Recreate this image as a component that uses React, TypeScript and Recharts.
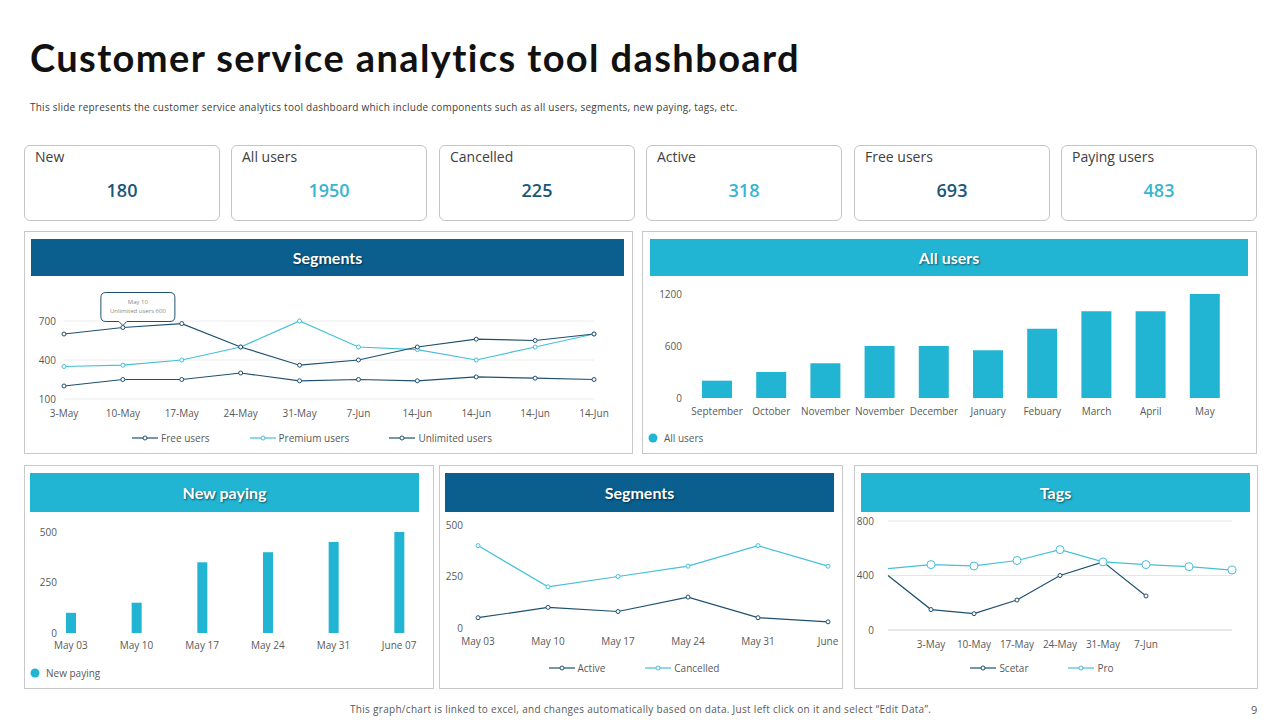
import React from "react";
import {
  BarChart,
  Bar,
  LineChart,
  Line,
  XAxis,
  YAxis,
  CartesianGrid,
  Legend,
} from "recharts";

// KPI cards
const kpiLabels = ["New", "All users", "Cancelled", "Active", "Free users", "Paying users"];
const kpiValues = [180, 1950, 225, 318, 693, 483];

// Segments (top left)
const segWeeks = ["3-May", "10-May", "17-May", "24-May", "31-May", "7-Jun", "14-Jun", "14-Jun", "14-Jun", "14-Jun"];
const freeUsers = [200, 250, 250, 300, 240, 250, 240, 270, 260, 250];
const premiumUsers = [350, 360, 400, 500, 700, 500, 480, 400, 500, 600];
const unlimitedUsers = [600, 650, 680, 500, 360, 400, 500, 560, 550, 600];

// All users
const allUsersMonths = ["September", "October", "November", "November", "December", "January", "Febuary", "March", "April", "May"];
const allUsers = [200, 300, 400, 600, 600, 550, 800, 1000, 1000, 1200];

// New paying
const newPayingWeeks = ["May 03", "May 10", "May 17", "May 24", "May 31", "June 07"];
const newPaying = [100, 150, 350, 400, 450, 500];

// Segments (bottom)
const seg2Weeks = ["May 03", "May 10", "May 17", "May 24", "May 31", "June"];
const active = [50, 100, 80, 150, 50, 30];
const cancelled = [400, 200, 250, 300, 400, 300];

// Tags
const tagWeeks = ["", "3-May", "10-May", "17-May", "24-May", "31-May", "7-Jun", "", ""];
const scetar = [400, 150, 120, 220, 400, 500, 250, null, null];
const pro = [450, 480, 470, 510, 590, 500, 480, 465, 440];

const FONT = "'Open Sans', 'Noto Sans', sans-serif";
const HEAD_FONT = "Lato, 'Open Sans', sans-serif";
const DARK = "#0a5f8f";
const LIGHT = "#22b5d3";
const NAVY = "#1f5070";
const TEAL = "#45c0d8";
const TICK = { fontSize: 10, fill: "#595959", fontFamily: FONT };

const segData = segWeeks.map((w, i) => ({
  week: w,
  free: freeUsers[i],
  premium: premiumUsers[i],
  unlimited: unlimitedUsers[i],
}));
const allUsersData = allUsersMonths.map((m, i) => ({ month: m, users: allUsers[i] }));
const newPayingData = newPayingWeeks.map((w, i) => ({ week: w, paying: newPaying[i] }));
const seg2Data = seg2Weeks.map((w, i) => ({ week: w, active: active[i], cancelled: cancelled[i] }));
const tagData = tagWeeks.map((w, i) => ({ week: w, scetar: scetar[i], pro: pro[i] }));

const LineLegend = ({ payload }: any) => (
  <div
    style={{
      display: "flex",
      justifyContent: "center",
      gap: 40,
      height: 24,
      alignItems: "center",
      fontSize: 10,
      color: "#595959",
      fontFamily: FONT,
    }}
  >
    {(payload || []).map((p: any) => (
      <span key={p.value} style={{ display: "flex", alignItems: "center", gap: 3 }}>
        <svg width={26} height={8}>
          <line x1={0} y1={4} x2={26} y2={4} stroke={p.color} strokeWidth={1.2} />
          <circle cx={13} cy={4} r={2} fill="#fff" stroke={p.color} strokeWidth={1} />
        </svg>
        {p.value}
      </span>
    ))}
  </div>
);

const BarLegend = ({ payload }: any) => (
  <div
    style={{
      display: "flex",
      height: 24,
      alignItems: "center",
      fontSize: 10,
      color: "#595959",
      fontFamily: FONT,
    }}
  >
    {(payload || []).map((p: any) => (
      <span key={p.value} style={{ display: "flex", alignItems: "center", gap: 6 }}>
        <svg width={10} height={10}>
          <circle cx={5} cy={5} r={4.5} fill={p.color} />
        </svg>
        {p.value}
      </span>
    ))}
  </div>
);

// unlimited users dot, the second one carries the callout box
const UnlimitedDot = (props: any) => {
  const { cx, cy, index } = props;
  const dot = <circle cx={cx} cy={cy} r={2} fill="#fff" stroke={NAVY} strokeWidth={1} />;
  if (index !== 1) return <g key={`u-${index}`}>{dot}</g>;
  const w = 74;
  const h = 29;
  const left = cx - 22;
  const top = cy - 35;
  const r = 5;
  const d = `M${left + r},${top} H${left + w - r} Q${left + w},${top} ${left + w},${top + r} V${top + h - r} Q${left + w},${top + h} ${left + w - r},${top + h} H${cx + 4} L${cx},${cy - 2} L${cx - 4},${top + h} H${left + r} Q${left},${top + h} ${left},${top + h - r} V${top + r} Q${left},${top} ${left + r},${top} Z`;
  return (
    <g key={`u-${index}`}>
      {dot}
      <path d={d} fill="#fff" stroke={NAVY} strokeWidth={1} />
      <text x={left + w / 2} y={top + 11} textAnchor="middle" fontSize={6} fill="#888" fontFamily={FONT}>
        May 10
      </text>
      <text x={left + w / 2} y={top + 20} textAnchor="middle" fontSize={6} fill="#888" fontFamily={FONT}>
        Unlimited users 600
      </text>
    </g>
  );
};

const ProDot = (props: any) => {
  const { cx, cy, index } = props;
  if (index === 0 || cx == null || cy == null) return <g key={`p-${index}`} />;
  return <circle key={`p-${index}`} cx={cx} cy={cy} r={4} fill="#fff" stroke={TEAL} strokeWidth={1} />;
};

const ScetarDot = (props: any) => {
  const { cx, cy, index, value } = props;
  if (index === 0 || value == null || cy == null) return <g key={`s-${index}`} />;
  return <circle key={`s-${index}`} cx={cx} cy={cy} r={2} fill="#fff" stroke={NAVY} strokeWidth={1} />;
};

const Panel = ({ x, y, w, h }: { x: number; y: number; w: number; h: number }) => (
  <div
    style={{
      position: "absolute",
      left: x,
      top: y,
      width: w,
      height: h,
      border: "1px solid #c9c9c9",
      boxSizing: "border-box",
    }}
  />
);

const Header = ({ x, y, w, h, color, title }: any) => (
  <div
    style={{
      position: "absolute",
      left: x,
      top: y,
      width: w,
      height: h,
      background: color,
      color: "#fff",
      fontFamily: HEAD_FONT,
      fontWeight: 700,
      fontSize: 16,
      display: "flex",
      alignItems: "center",
      justifyContent: "center",
      textShadow: "1px 1px 2px rgba(0,0,0,0.55)",
    }}
  >
    {title}
  </div>
);

const abs = (left: number, top: number): React.CSSProperties => ({ position: "absolute", left, top });

export default function App() {
  return (
    <div
      style={{
        position: "absolute",
        left: 0,
        top: 0,
        width: 1280,
        height: 720,
        background: "#fff",
        overflow: "hidden",
        fontFamily: FONT,
      }}
    >
      <div
        style={{
          position: "absolute",
          left: 30,
          top: 34,
          fontFamily: HEAD_FONT,
          fontWeight: 700,
          fontSize: 38,
          letterSpacing: 1.4,
          color: "#111",
          whiteSpace: "nowrap",
        }}
      >
        Customer service analytics tool dashboard
      </div>
      <div style={{ position: "absolute", left: 30, top: 100, fontSize: 10, color: "#404040", letterSpacing: 0.24, whiteSpace: "nowrap" }}>
        This slide represents the customer service analytics tool dashboard which include components such as all users, segments, new paying, tags, etc.
      </div>

      {kpiLabels.map((label, i) => (
        <div
          key={label}
          style={{
            position: "absolute",
            left: Math.round(24 + i * 207.4),
            top: 145,
            width: 196,
            height: 76,
            border: "1px solid #c4c4c4",
            borderRadius: 6,
            boxSizing: "border-box",
          }}
        >
          <div style={{ position: "absolute", left: 10, top: 1, fontSize: 14, color: "#404040" }}>{label}</div>
          <div
            style={{
              position: "absolute",
              left: 0,
              right: 0,
              top: 32,
              textAlign: "center",
              fontSize: 18,
              fontWeight: 600,
              color: i % 2 === 0 ? "#1a5878" : "#38b6cf",
            }}
          >
            {kpiValues[i]}
          </div>
        </div>
      ))}

      <Panel x={24} y={231} w={609} h={223} />
      <Panel x={642} y={231} w={615} h={223} />
      <Panel x={24} y={465} w={410} h={224} />
      <Panel x={439} y={465} w={404} h={224} />
      <Panel x={854} y={465} w={404} h={224} />

      <Header x={31} y={239} w={593} h={37} color={DARK} title="Segments" />
      <Header x={650} y={239} w={598} h={37} color={LIGHT} title="All users" />
      <Header x={30} y={473} w={389} h={39} color={LIGHT} title="New paying" />
      <Header x={445} y={473} w={389} h={39} color={DARK} title="Segments" />
      <Header x={861} y={473} w={389} h={39} color={LIGHT} title="Tags" />

      {/* Segments top */}
      <div style={abs(30, 282)}>
        <LineChart width={580} height={168} data={segData} margin={{ top: 39, right: 16, left: 0, bottom: 0 }}>
          <CartesianGrid vertical={false} stroke="#ececec" />
          <XAxis dataKey="week" tick={{ ...TICK, dy: 3 }} tickLine={false} axisLine={false} interval={0} height={27} />
          <YAxis domain={[100, 700]} ticks={[100, 400, 700]} tick={TICK} tickLine={false} axisLine={false} width={34} />
          <Legend verticalAlign="bottom" itemSorter={null as any} content={<LineLegend />} />
          <Line type="linear" dataKey="free" name="Free users" stroke={NAVY} strokeWidth={1.2} dot={{ r: 2, fill: "#fff", stroke: NAVY, strokeWidth: 1 }} isAnimationActive={false} />
          <Line type="linear" dataKey="premium" name="Premium users" stroke={TEAL} strokeWidth={1.2} dot={{ r: 2, fill: "#fff", stroke: TEAL, strokeWidth: 1 }} isAnimationActive={false} />
          <Line type="linear" dataKey="unlimited" name="Unlimited users" stroke={NAVY} strokeWidth={1.2} dot={UnlimitedDot} isAnimationActive={false} />
        </LineChart>
      </div>

      {/* All users */}
      <div style={abs(645, 285)}>
        <BarChart width={600} height={165} data={allUsersData} margin={{ top: 9, right: 13, left: 0, bottom: 0 }}>
          <XAxis dataKey="month" tick={{ ...TICK, dy: 2 }} tickLine={false} axisLine={false} interval={0} height={28} />
          <YAxis domain={[0, 1200]} ticks={[0, 600, 1200]} tick={TICK} tickLine={false} axisLine={false} width={45} />
          <Legend verticalAlign="bottom" align="left" wrapperStyle={{ left: 3 }} content={<BarLegend />} />
          <Bar dataKey="users" name="All users" fill={LIGHT} barSize={30} isAnimationActive={false} />
        </BarChart>
      </div>

      {/* New paying */}
      <div style={abs(28, 520)}>
        <BarChart width={404} height={165} data={newPayingData} margin={{ top: 12, right: 0, left: 0, bottom: 0 }}>
          <XAxis dataKey="week" tick={{ ...TICK, dy: 1 }} tickLine={false} axisLine={false} interval={0} height={28} />
          <YAxis domain={[0, 500]} ticks={[0, 250, 500]} tick={{ ...TICK, dx: 27 }} tickLine={false} axisLine={false} width={10} />
          <Legend verticalAlign="bottom" align="left" wrapperStyle={{ left: 2 }} content={<BarLegend />} />
          <Bar dataKey="paying" name="New paying" fill={LIGHT} barSize={10} isAnimationActive={false} />
        </BarChart>
      </div>

      {/* Segments bottom */}
      <div style={abs(440, 515)}>
        <LineChart width={398} height={165} data={seg2Data} margin={{ top: 10, right: 10, left: 0, bottom: 0 }}>
          <XAxis dataKey="week" tick={{ ...TICK, dy: 2 }} tickLine={false} axisLine={false} interval={0} height={28} />
          <YAxis domain={[0, 500]} ticks={[0, 250, 500]} tick={{ ...TICK, dx: -7 }} tickLine={false} axisLine={false} width={38} />
          <Legend verticalAlign="bottom" itemSorter={null as any} content={<LineLegend />} />
          <Line type="linear" dataKey="active" name="Active" stroke={NAVY} strokeWidth={1.2} dot={{ r: 2, fill: "#fff", stroke: NAVY, strokeWidth: 1 }} isAnimationActive={false} />
          <Line type="linear" dataKey="cancelled" name="Cancelled" stroke={TEAL} strokeWidth={1.2} dot={{ r: 2, fill: "#fff", stroke: TEAL, strokeWidth: 1 }} isAnimationActive={false} />
        </LineChart>
      </div>

      {/* Tags */}
      <div style={abs(852, 510)}>
        <LineChart width={390} height={170} data={tagData} margin={{ top: 11, right: 10, left: 0, bottom: 0 }}>
          <CartesianGrid vertical={false} stroke="#e6e6e6" />
          <XAxis dataKey="week" tick={{ ...TICK, dy: 3 }} tickLine={false} axisLine={{ stroke: "#d9d9d9" }} interval={0} height={26} />
          <YAxis domain={[0, 800]} ticks={[0, 400, 800]} tick={{ ...TICK, dx: -6 }} tickLine={false} axisLine={false} width={36} />
          <Legend verticalAlign="bottom" itemSorter={null as any} content={<LineLegend />} />
          <Line type="linear" dataKey="scetar" name="Scetar" stroke={NAVY} strokeWidth={1.2} dot={ScetarDot} isAnimationActive={false} />
          <Line type="linear" dataKey="pro" name="Pro" stroke={TEAL} strokeWidth={1.2} dot={ProDot} isAnimationActive={false} />
        </LineChart>
      </div>

      <div style={{ position: "absolute", left: 350, top: 702, fontSize: 10, color: "#595959", letterSpacing: 0.3, whiteSpace: "nowrap" }}>
        This graph/chart is linked to excel, and changes automatically based on data. Just left click on it and select “Edit Data”.
      </div>
      <div style={{ position: "absolute", left: 1251, top: 702, fontSize: 11, color: "#595959" }}>9</div>
    </div>
  );
}
